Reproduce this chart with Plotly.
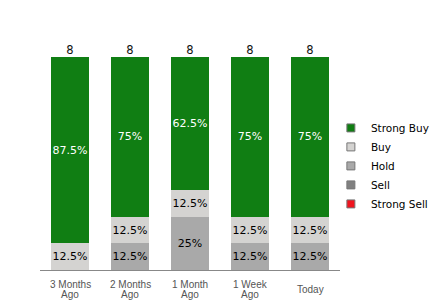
import plotly.graph_objects as go

categories = ["3 Months Ago", "2 Months Ago", "1 Month Ago", "1 Week Ago", "Today"]
tick_lines = [["3 Months", "Ago"], ["2 Months", "Ago"], ["1 Month", "Ago"], ["1 Week", "Ago"], ["Today"]]
strong_buy = [7, 6, 5, 6, 6]
buy = [1, 1, 1, 1, 1]
hold = [0, 1, 2, 1, 1]
sell = [0, 0, 0, 0, 0]
strong_sell = [0, 0, 0, 0, 0]

series = [
    ("Strong Sell", strong_sell, "#f0141e", "black"),
    ("Sell", sell, "#808080", "black"),
    ("Hold", hold, "#a9a9a9", "black"),
    ("Buy", buy, "#d4d3d1", "black"),
    ("Strong Buy", strong_buy, "#107e13", "white"),
]

totals = [sum(v) for v in zip(strong_buy, buy, hold, sell, strong_sell)]

fig = go.Figure()
for name, vals, color, tcolor in series:
    txt = []
    for v, t in zip(vals, totals):
        if v > 0:
            p = v / t * 100
            txt.append(("%g" % round(p, 1)) + "%")
        else:
            txt.append("")
    fig.add_trace(go.Bar(
        x=categories, y=vals, name=name, text=txt,
        textposition="inside", insidetextanchor="middle", textangle=0,
        constraintext="none",
        textfont=dict(color=tcolor, size=11, family="DejaVu Sans"),
        marker=dict(color=color, line=dict(width=0)),
        showlegend=False, width=0.62, hoverinfo="skip",
    ))

fig.add_trace(go.Scatter(
    x=categories, y=totals, mode="text", text=[str(t) for t in totals],
    textposition="top center", textfont=dict(color="#111111", size=11.5, family="DejaVu Sans"),
    showlegend=False, cliponaxis=False, hoverinfo="skip",
))

for name, vals, color, tcolor in reversed(series):
    fig.add_trace(go.Scatter(
        x=[None], y=[None], mode="markers", name=name,
        marker=dict(symbol="square", size=8, color=color, line=dict(color="#777777", width=1)),
    ))

# category labels, one annotation per line for tight line spacing
for cat, lines in zip(categories, tick_lines):
    n = len(lines)
    for i, line in enumerate(lines):
        offset = (i - (n - 1) / 2) * 10
        fig.add_annotation(
            x=cat, xref="x", y=0, yref="paper", yanchor="middle",
            yshift=-(19 + offset), text=line, showarrow=False,
            font=dict(size=10, family="Liberation Sans", color="#555555"),
        )

fig.update_layout(
    barmode="stack",
    width=440, height=300,
    margin=dict(l=40, r=100, t=57, b=30, autoexpand=False),
    paper_bgcolor="white", plot_bgcolor="white",
    showlegend=True,
    legend=dict(x=0.752, y=0.447, xref="container", yref="container",
                yanchor="middle", xanchor="left", traceorder="normal",
                font=dict(size=10.5, family="DejaVu Sans", color="black"),
                itemwidth=30, tracegroupgap=0),
    xaxis=dict(showline=True, linecolor="#888888", linewidth=1, ticks="",
               showticklabels=False, automargin=False, showgrid=False),
    yaxis=dict(visible=False, range=[0, 8], showgrid=False, automargin=False),
    font=dict(family="DejaVu Sans"),
)

fig.write_html("out.html")
